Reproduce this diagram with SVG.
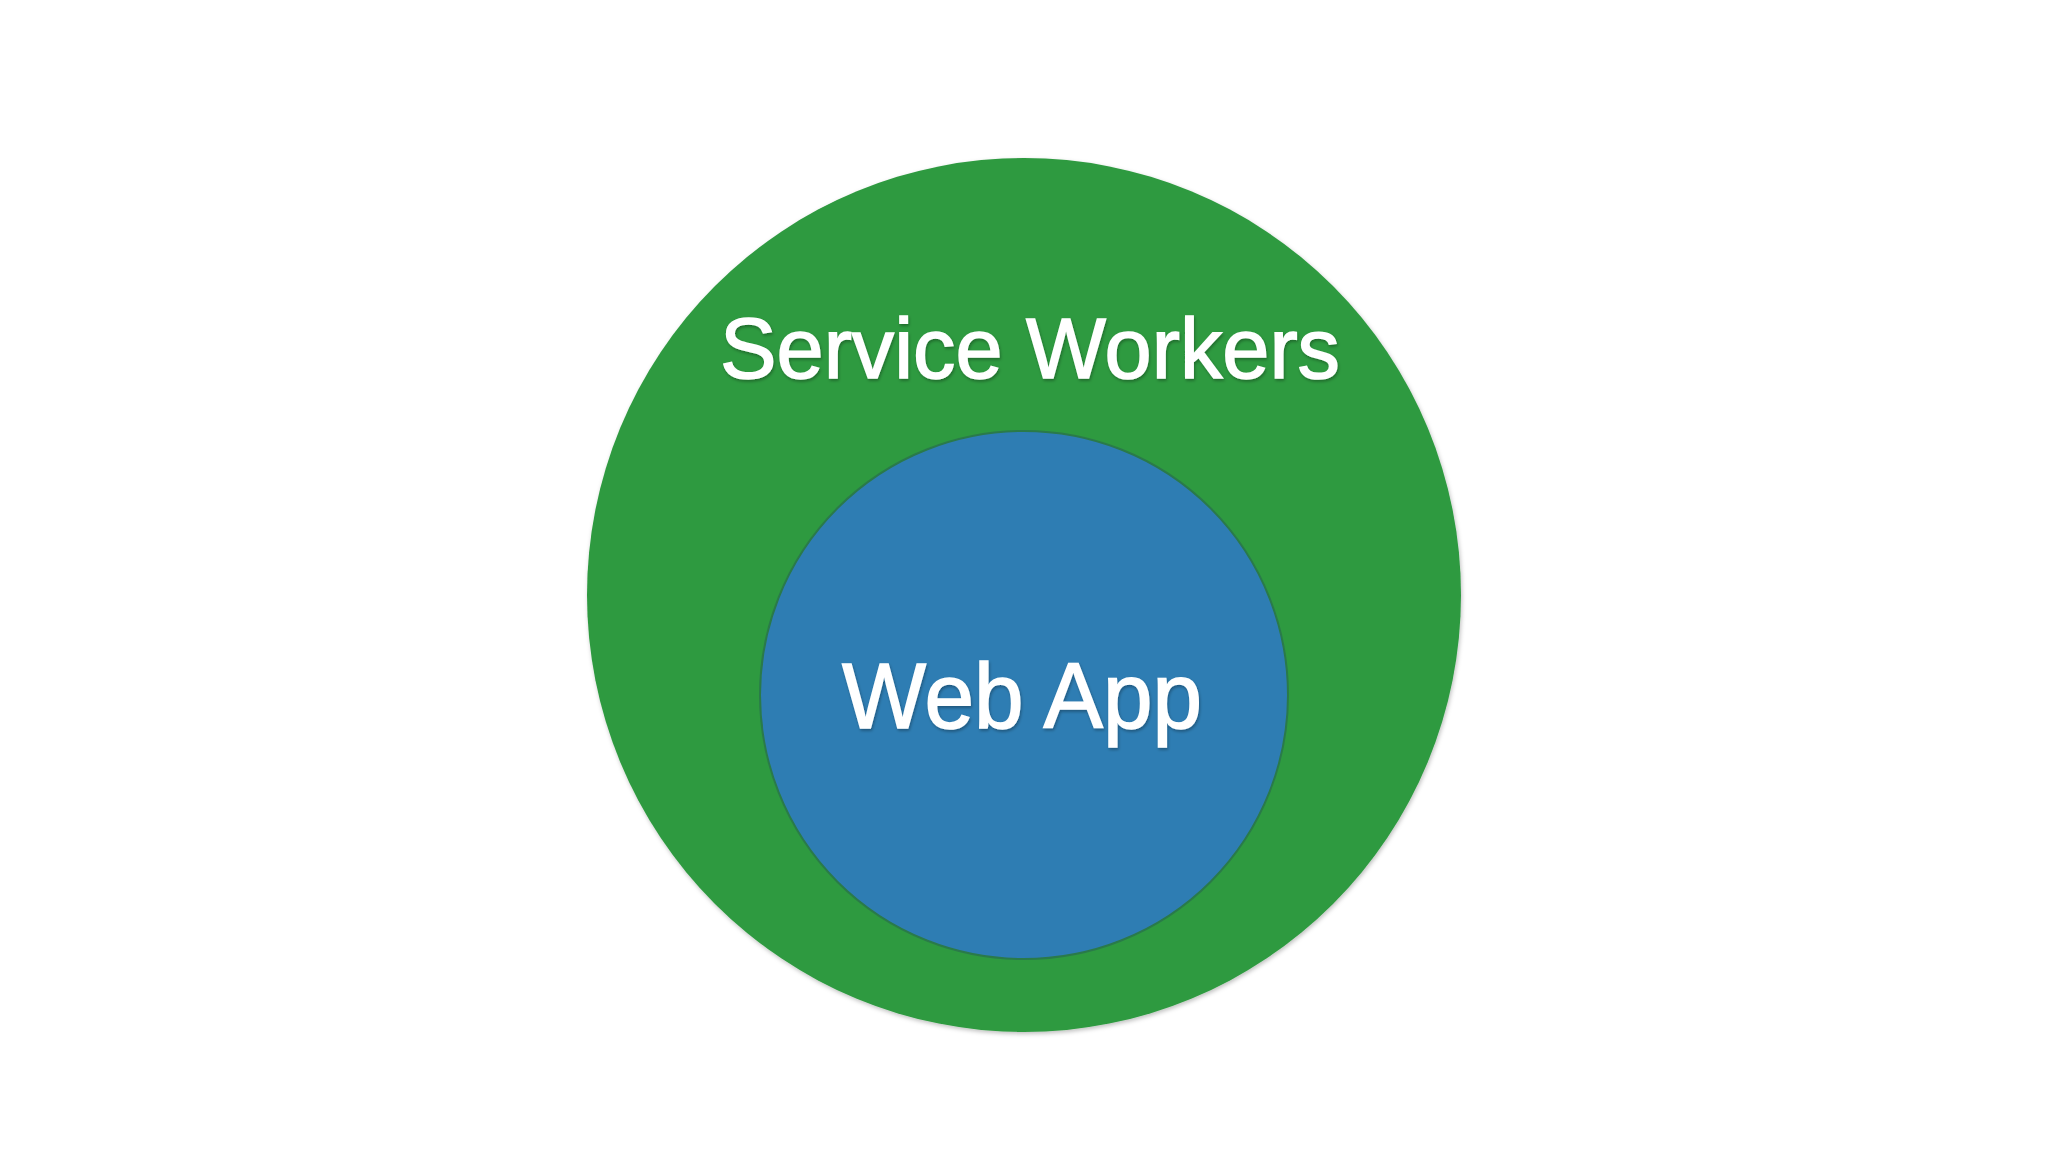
<svg xmlns="http://www.w3.org/2000/svg" width="2048" height="1152" viewBox="0 0 2048 1152">
  <defs>
    <filter id="shadow" x="-10%" y="-10%" width="120%" height="120%">
      <feDropShadow dx="1" dy="2" stdDeviation="2" flood-color="#000" flood-opacity="0.25"/>
    </filter>
    <filter id="tshadow" x="-5%" y="-20%" width="110%" height="140%">
      <feDropShadow dx="1" dy="2" stdDeviation="1.5" flood-color="#000" flood-opacity="0.3"/>
    </filter>
  </defs>
  <style>
    .label { font-family: "Liberation Sans", Arial, sans-serif; fill: #ffffff; stroke: #ffffff; stroke-width: 1.5; text-anchor: middle; }
  </style>
  <rect width="2048" height="1152" fill="#ffffff"/>
  <g id="service-workers">
    <circle cx="1024" cy="595" r="437" fill="#2f9a41" filter="url(#shadow)"/>
    <text class="label" x="1030" y="378" font-size="86" textLength="620" lengthAdjust="spacingAndGlyphs" filter="url(#tshadow)">Service Workers</text>
  </g>
  <g id="web-app">
    <circle cx="1024" cy="695" r="264" fill="#2e7db3" stroke="#2a7a4a" stroke-width="2"/>
    <text class="label" x="1022" y="728" font-size="92" textLength="360" lengthAdjust="spacingAndGlyphs" filter="url(#tshadow)">Web App</text>
  </g>
  <g id="connectors"/>
</svg>
